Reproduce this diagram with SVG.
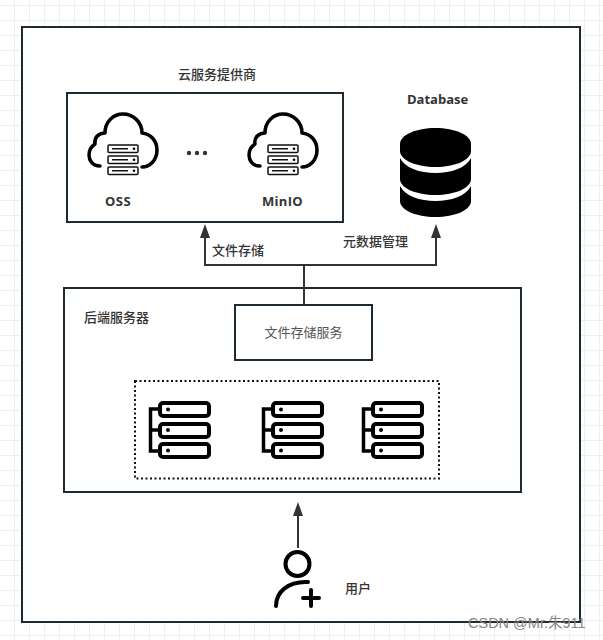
<svg xmlns="http://www.w3.org/2000/svg" width="603" height="640" viewBox="0 0 603 640">
<style>
.box{fill:#fff;stroke:#1e2a32;stroke-width:2}
.t{font-family:"Noto Sans CJK SC","Open Sans",sans-serif;font-size:13px;font-weight:500;fill:#333}
.l{font-family:"Open Sans","Noto Sans CJK SC",sans-serif;font-size:13px;font-weight:700;fill:#333}
.ic{fill:none;stroke:#000;stroke-width:3.500;stroke-linecap:round;stroke-linejoin:round}
.sv{fill:none;stroke:#111;stroke-width:1.500}
.c{fill:none;stroke:#333;stroke-width:2}
.g{stroke:#eee;stroke-width:1}
</style>
<defs>
<marker id="a" markerUnits="userSpaceOnUse" markerWidth="14" markerHeight="11" refX="0" refY="5.500" orient="auto" viewBox="0 0 14 11"><path d="M0 0.500L14 5.500L0 10.500Z" fill="#333"/></marker>
<g id="cloudIcon">
<path class="ic" d="M100 166C92 166 89 160 89 155C89 149 92 146 95 144C94 138 98 133 105 133C105 121 114 114 123 114C133 114 142 122 142 133C151 134 157 141 157 150C157 160 150 167 142 167"/>
<g class="sv">
<rect x="108" y="145" width="30" height="7.500" rx="1"/><rect x="108" y="156" width="30" height="7.500" rx="1"/><rect x="108" y="167" width="30" height="7.500" rx="1"/>
<path d="M112 148.700H128M112 159.700H128M112 170.700H128"/>
</g>
<circle cx="134" cy="148.700" r="1.300"/><circle cx="134" cy="159.700" r="1.300"/><circle cx="134" cy="170.700" r="1.300"/>
</g>
<g id="rackIcon">
<path fill="none" stroke="#000" stroke-width="3.500" d="M159 409H150.500V451H159M150.500 430H159"/>
<g fill="#fff" stroke="#000" stroke-width="4">
<rect x="160" y="403" width="49" height="13" rx="3"/><rect x="160" y="424" width="49" height="13" rx="3"/><rect x="160" y="444" width="49" height="13" rx="3"/>
</g>
<circle cx="168" cy="409.500" r="2"/><circle cx="168" cy="430" r="2"/><circle cx="168" cy="450.500" r="2"/>
</g>
<pattern id="grid" width="15" height="15" patternUnits="userSpaceOnUse" x="0" y="5"><path d="M0 0.500H15M14.500 0V15" class="g" fill="none"/></pattern>
</defs>
<rect width="603" height="640" fill="#fff"/>
<rect width="603" height="640" fill="url(#grid)"/>
<g id="outer"><rect class="box" x="22" y="27" width="558" height="595"/></g>
<g id="cloud-provider">
<rect class="box" x="67" y="93" width="276" height="129"/>
<text class="t" x="178" y="79">云服务提供商</text>
</g>
<g id="oss"><use href="#cloudIcon"/><text class="l" x="105" y="206" letter-spacing="0.500">OSS</text></g>
<g id="minio"><use href="#cloudIcon" x="160"/><text class="l" x="262" y="206" letter-spacing="0.300">MinIO</text></g>
<g id="dots" fill="#333"><circle cx="189" cy="153" r="2.200"/><circle cx="197" cy="153" r="2.200"/><circle cx="205" cy="153" r="2.200"/></g>
<g id="database">
<text class="l" x="407" y="104">Database</text>
<path d="M400 144C400 135 416 128 435.500 128C455 128 471 135 471 144V151C471 160 455 167 435.500 167C416 167 400 160 400 151Z"/>
<path d="M400 158C405 168 420 173 435.500 173C451 173 466 168 471 158V179C471 188 455 195 435.500 195C416 195 400 188 400 179Z"/>
<path d="M400 186C405 196 420 201 435.500 201C451 201 466 196 471 186V201C471 210 455 217 435.500 217C416 217 400 210 400 201Z"/>
</g>
<g id="backend">
<rect class="box" x="64" y="288" width="457" height="204"/>
<text class="t" x="84" y="322">后端服务器</text>
</g>
<g id="file-service">
<rect class="box" x="235" y="305" width="137" height="55"/>
<text x="303.500" y="337" text-anchor="middle" font-family="'Noto Sans CJK SC',sans-serif" font-size="13" fill="#555">文件存储服务</text>
</g>
<g id="servers">
<rect x="135" y="381" width="304" height="97.500" fill="none" stroke="#111" stroke-width="2" stroke-dasharray="2 2.500"/>
<use href="#rackIcon"/><use href="#rackIcon" x="113"/><use href="#rackIcon" x="213"/>
</g>
<g id="connectors">
<path class="c" d="M304 305V265M304 265H205V238" marker-end="url(#a)"/>
<path class="c" d="M304 265H436V238" marker-end="url(#a)"/>
<path class="c" d="M298 548V516" marker-end="url(#a)"/>
</g>
<text class="t" x="212" y="255">文件存储</text>
<text class="t" x="343" y="246">元数据管理</text>
<g id="user">
<circle cx="297.500" cy="564" r="12" fill="none" stroke="#000" stroke-width="4"/>
<path d="M276 606C276 592 288 581 308 582" fill="none" stroke="#000" stroke-width="4" stroke-linecap="round"/>
<path d="M303 598H319M311 590V606" fill="none" stroke="#000" stroke-width="4" stroke-linecap="round"/>
<text class="t" x="345" y="593">用户</text>
</g>
<text x="468" y="628" font-family="'Liberation Sans','Noto Sans CJK SC',sans-serif" font-size="14.500" fill="#858585">CSDN @Mr.朱911</text>
</svg>
